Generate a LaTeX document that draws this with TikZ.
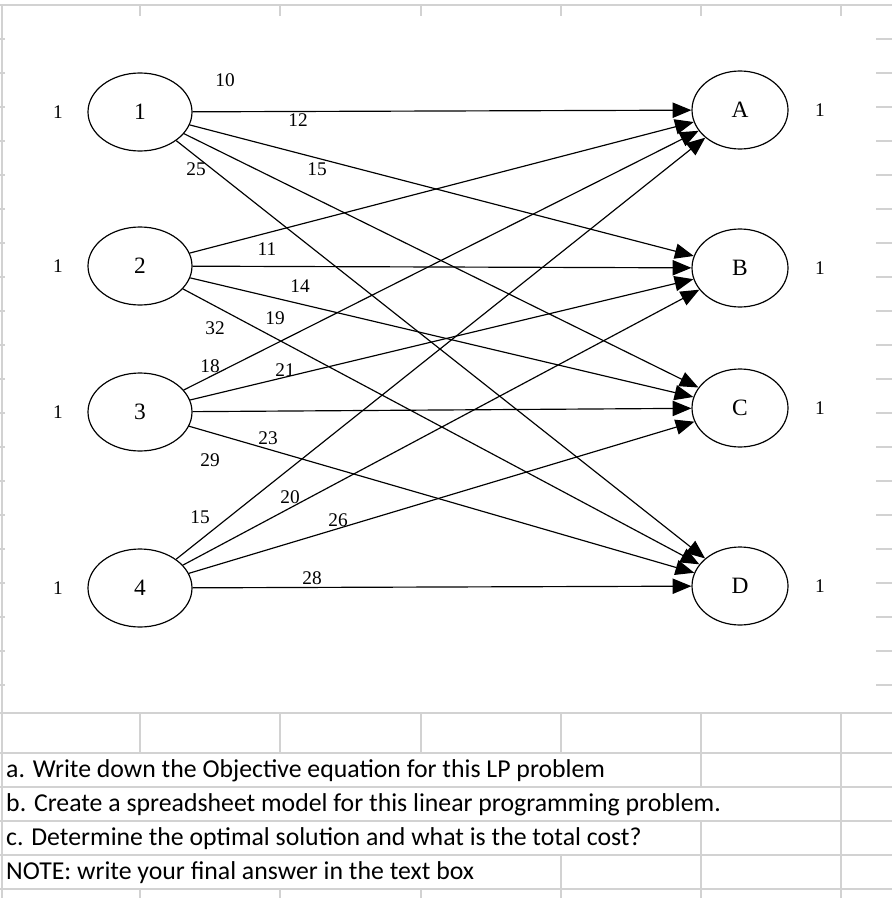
\documentclass[tikz,border=0pt]{standalone}
\usepackage{fontspec}
\setmainfont{Liberation Serif}
\newfontfamily\calib{Carlito}
\usetikzlibrary{arrows.meta,shapes.geometric}
\begin{document}
\begin{tikzpicture}[x=0.03cm, y=-0.03cm,
    grid/.style={gray!35, line width=1.2pt},
    stop/.style={draw, ellipse, line width=1pt, minimum width=104*0.03cm, minimum height=78*0.03cm, font=\fontsize{20}{20}\selectfont},
    cost/.style={font=\fontsize{16.5}{16.5}\selectfont, inner sep=1pt},
    flow/.style={line width=1pt, -{Triangle[length=16pt,width=13pt]}},
    task/.style={font=\calib\fontsize{22}{24}\selectfont, anchor=west, inner sep=0pt}]

\useasboundingbox (0,0) rectangle (892,898);

% cuadricula de la hoja
\foreach \y in {39,73,...,700} {
  \draw[grid] (0,\y) -- (5,\y);
  \draw[grid] (876,\y) -- (892,\y);
}
\foreach \x in {140,280,421,561,701,841} \draw[grid] (\x,5) -- (\x,16);
\draw[grid] (0,5) -- (892,5);
\draw[grid] (2,5) -- (2,898);
\foreach \y in {713,753,787,821,855,889} \draw[grid] (0,\y) -- (892,\y);
\foreach \x in {140,280,421,561} \draw[grid] (\x,713) -- (\x,753);
\foreach \x in {140,280,421} \draw[grid] (\x,889) -- (\x,898);
\draw[grid] (561,855) -- (561,898);
\draw[grid] (701,713) -- (701,787);
\draw[grid] (701,821) -- (701,898);
\draw[grid] (841,713) -- (841,898);

% nodos de origen
\node[stop] (s1) at (140,112) {1};
\node[stop] (s2) at (140,266) {2};
\node[stop] (s3) at (140,412) {3};
\node[stop] (s4) at (140,588) {4};

% nodos de destino
\node[stop, minimum width=96*0.03cm] (dA) at (740,110) {A};
\node[stop, minimum width=96*0.03cm] (dB) at (740,268) {B};
\node[stop, minimum width=96*0.03cm] (dC) at (740,408) {C};
\node[stop, minimum width=96*0.03cm] (dD) at (740,586) {D};

% ofertas y demandas
\foreach \n/\y in {1/112,2/266,3/412,4/588} \node[cost] (sup\n) at (58,\y) {1};
\foreach \n/\y in {A/110,B/268,C/408,D/586} \node[cost] (dem\n) at (820,\y) {1};

% arcos
\foreach \s in {1,2,3,4}
  \foreach \d in {A,B,C,D}
    \draw[flow] (s\s) -- (d\d);

% costos
\node[cost] (c1A) at (225,80) {10};
\node[cost] (c1B) at (298,120) {12};
\node[cost] (c1C) at (196,169) {25};
\node[cost] (c1D) at (317,169) {15};
\node[cost] (c2A) at (267,249) {11};
\node[cost] (c2B) at (300,286) {14};
\node[cost] (c2C) at (275,318) {19};
\node[cost] (c2D) at (215,328) {32};
\node[cost] (c3A) at (210,366) {18};
\node[cost] (c3B) at (285,370) {21};
\node[cost] (c3C) at (268,438) {23};
\node[cost] (c3D) at (210,460) {29};
\node[cost] (c4A) at (200,517) {15};
\node[cost] (c4B) at (290,497) {20};
\node[cost] (c4C) at (338,520) {26};
\node[cost] (c4D) at (312,578) {28};

% enunciado
\node[task] (qa) at (6,771) {a. Write down the Objective equation for this LP problem};
\node[task] (qb) at (6,805) {b. Create a spreadsheet model for this linear programming problem.};
\node[task] (qc) at (6,839) {c. Determine the optimal solution and what is the total cost?};
\node[task] (qn) at (6,873) {NOTE: write your final answer in the text box};

\end{tikzpicture}
\end{document}
